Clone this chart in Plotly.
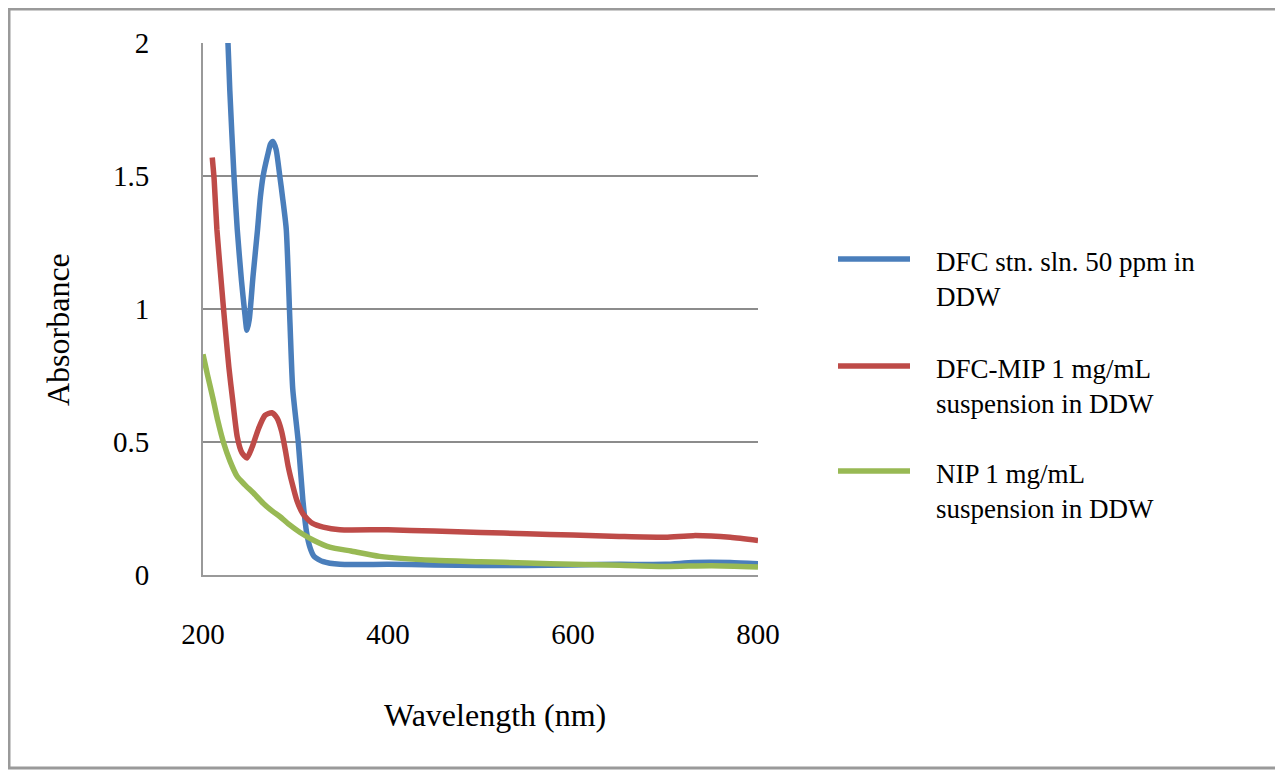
import plotly.graph_objects as go

## ----------- data ----------- ##
DFC_WL = [222, 227, 229, 233.5, 237, 241.5, 245, 247.5, 250, 254, 259, 262, 265, 270, 273, 275.5,
          279, 283, 286, 290, 294, 297, 303, 308, 312, 316, 320, 330, 348, 400, 450, 500, 550,
          600, 650, 700, 730, 770, 800]
DFC_ABS = [2.3, 2.0, 1.82, 1.5, 1.3, 1.11, 0.99, 0.92, 0.96, 1.12, 1.3, 1.42, 1.5, 1.58, 1.62, 1.63,
           1.6, 1.5, 1.42, 1.3, 0.95, 0.7, 0.5, 0.28, 0.16, 0.1, 0.07, 0.05, 0.04, 0.04, 0.038,
           0.036, 0.036, 0.038, 0.04, 0.04, 0.047, 0.047, 0.042]

MIP_WL = [210, 212, 215, 220.5, 224, 228, 232, 237, 242, 247.5, 253, 260, 267, 274.5, 280, 285,
          289, 292, 296, 301.5, 308, 313, 318, 330, 348, 400, 450, 500, 550, 600, 650, 700,
          730, 770, 800]
MIP_ABS = [1.57, 1.49, 1.3, 1.07, 0.93, 0.78, 0.66, 0.52, 0.46, 0.44, 0.48, 0.55, 0.6, 0.61, 0.59,
           0.54, 0.47, 0.41, 0.35, 0.28, 0.23, 0.21, 0.195, 0.18, 0.17, 0.17, 0.165, 0.16, 0.155,
           0.15, 0.145, 0.142, 0.148, 0.142, 0.13]

NIP_WL = [200, 205, 211, 216, 222, 229, 237, 245, 254, 265, 275, 283, 293, 305, 320, 337, 360,
          391, 450, 500, 550, 600, 650, 700, 750, 800]
NIP_ABS = [0.83, 0.75, 0.66, 0.58, 0.5, 0.43, 0.37, 0.34, 0.31, 0.27, 0.24, 0.22, 0.19, 0.16, 0.13,
           0.105, 0.09, 0.07, 0.055, 0.05, 0.045, 0.04, 0.037, 0.032, 0.035, 0.03]

SERIES_NAMES = ["DFC stn. sln. 50 ppm in<br>DDW",
                "DFC-MIP 1 mg/mL<br>suspension in DDW",
                "NIP 1 mg/mL<br>suspension in DDW"]
SERIES_COLORS = ["#4a7ebb", "#be4b48", "#98b954"]

X_TICKS = [200, 400, 600, 800]
Y_TICKS = [0, 0.5, 1, 1.5, 2]
Y_TICK_TEXT = ["0", "0.5", "1", "1.5", "2"]

## ----------- layout geometry (screen pixels of the reference) ----------- ##
OFF = 8                      # page body margin around the plot div
W, H = 1283 - OFF, 773 - OFF
L, R, T, B = 203, 758, 43, 575
FONT = "Liberation Serif"


def px(x):
    return (x - L) / (R - L)


def py(y):
    return (B - y) / (B - T)


fig = go.Figure()
for wl, ab, col in zip([DFC_WL, MIP_WL, NIP_WL], [DFC_ABS, MIP_ABS, NIP_ABS], SERIES_COLORS):
    fig.add_trace(go.Scatter(x=wl, y=ab, mode="lines",
                             line=dict(color=col, width=5.5, shape="spline", smoothing=0.6),
                             showlegend=False))

# hand-drawn legend to get the long line samples
legend_y = [259, 366, 471]
for name, col, ly in zip(SERIES_NAMES, SERIES_COLORS, legend_y):
    fig.add_shape(type="line", xref="paper", yref="paper",
                  x0=px(838), x1=px(910), y0=py(ly), y1=py(ly),
                  line=dict(color=col, width=5.5))
    fig.add_annotation(xref="paper", yref="paper", x=px(934), y=py(ly - 14),
                       xanchor="left", yanchor="top", align="left", showarrow=False,
                       text=name, font=dict(family=FONT, size=27, color="black"))

# axis titles
fig.add_annotation(xref="paper", yref="paper", x=px(495), y=py(715), showarrow=False,
                   xanchor="center", yanchor="middle",
                   text="Wavelength (nm)", font=dict(family=FONT, size=32, color="black"))
fig.add_annotation(xref="paper", yref="paper", x=px(58), y=py(330), showarrow=False,
                   xanchor="center", yanchor="middle", textangle=-90,
                   text="Absorbance", font=dict(family=FONT, size=32, color="black"))

# outer frame
fig.add_shape(type="rect", xref="paper", yref="paper",
              x0=px(OFF + 1), x1=px(1279), y0=py(OFF + 1), y1=py(768),
              line=dict(color="#9a9a9a", width=3))

fig.update_layout(
    width=W, height=H,
    margin=dict(l=L - OFF, r=W - (R - OFF), t=T - OFF, b=H - (B - OFF), pad=0),
    paper_bgcolor="white", plot_bgcolor="white",
    font=dict(family=FONT, size=29, color="black"),
    xaxis=dict(range=[200, 800], tickvals=X_TICKS, showgrid=False, zeroline=False,
               showline=True, linecolor="#999999", linewidth=2, ticks="",
               ticklabelstandoff=32, tickfont=dict(size=29)),
    yaxis=dict(range=[0, 2], tickvals=Y_TICKS, ticktext=Y_TICK_TEXT, showgrid=True,
               gridcolor="#8c8c8c", gridwidth=1.5, zeroline=False,
               showline=True, linecolor="#999999", linewidth=2, ticks="",
               ticklabelstandoff=46, tickfont=dict(size=29)),
)

fig.write_html("out.html")
